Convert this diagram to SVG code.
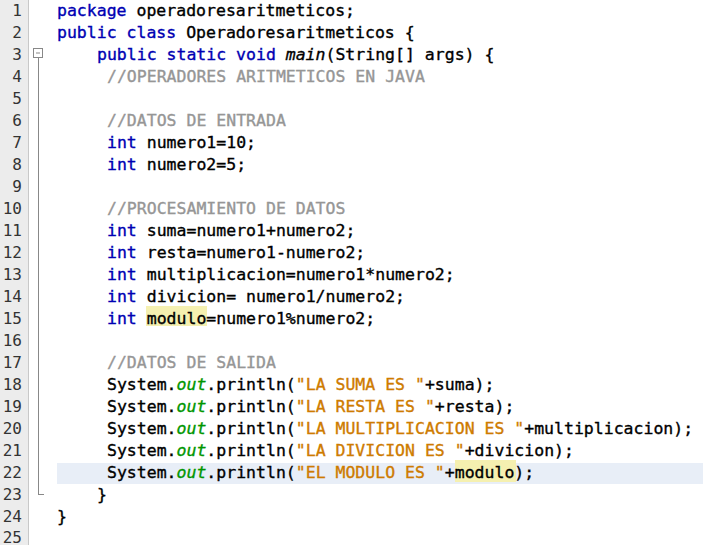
<svg xmlns="http://www.w3.org/2000/svg" width="703" height="545" viewBox="0 0 703 545">
<style>
text{font-family:"DejaVu Sans Mono","Liberation Mono",monospace;font-size:16.5px;fill:#000;white-space:pre}
#code text,#code tspan{stroke:currentColor;stroke-width:0.35}
#code text{color:#000}
.ln{font-size:16px;fill:#333;text-anchor:end}
#code .k{fill:#0000b3;color:#0000b3}
#code .c{fill:#969696;color:#969696}
#code .s{fill:#ce7b00;color:#ce7b00}
#code .o{fill:#009600;color:#009600;font-style:italic}
</style>
<rect width="703" height="545" fill="#fff"/>
<rect width="28" height="545" fill="#ececec"/>
<line x1="28.5" y1="0" x2="28.5" y2="545" stroke="#c8c8c8"/>
<rect x="57" y="463" width="646" height="21" fill="#e8eef7"/>
<rect x="146" y="306" width="61" height="20" fill="#f5f0b0"/>
<rect x="455" y="460" width="61" height="22" fill="#f5f0b0"/>
<g id="fold" fill="none" stroke="#888">
<rect x="33.5" y="48.5" width="9" height="9" fill="#fff"/>
<line x1="36" y1="53" x2="40" y2="53"/>
<line x1="38.5" y1="58" x2="38.5" y2="494"/>
<line x1="38" y1="494.5" x2="44" y2="494.5"/>
</g>
<g id="linenumbers">
<text class="ln" x="22" y="16">1</text><text class="ln" x="22" y="38">2</text><text class="ln" x="22" y="60">3</text><text class="ln" x="22" y="82">4</text><text class="ln" x="22" y="104">5</text><text class="ln" x="22" y="126">6</text><text class="ln" x="22" y="148">7</text><text class="ln" x="22" y="170">8</text><text class="ln" x="22" y="192">9</text><text class="ln" x="22" y="214">10</text><text class="ln" x="22" y="236">11</text><text class="ln" x="22" y="258">12</text><text class="ln" x="22" y="280">13</text><text class="ln" x="22" y="302">14</text><text class="ln" x="22" y="324">15</text><text class="ln" x="22" y="346">16</text><text class="ln" x="22" y="368">17</text><text class="ln" x="22" y="390">18</text><text class="ln" x="22" y="412">19</text><text class="ln" x="22" y="434">20</text><text class="ln" x="22" y="456">21</text><text class="ln" x="22" y="478">22</text><text class="ln" x="22" y="500">23</text><text class="ln" x="22" y="522">24</text><text class="ln" x="22" y="543">25</text>
</g>
<g id="code">
<text x="57" y="16"><tspan class="k">package</tspan> operadoresaritmeticos;</text>
<text x="57" y="38"><tspan class="k">public class</tspan> Operadoresaritmeticos {</text>
<text x="97" y="60"><tspan class="k">public static void</tspan> <tspan font-style="italic">main</tspan>(String[] args) {</text>
<text x="107" y="82" class="c">//OPERADORES ARITMETICOS EN JAVA</text>
<text x="107" y="126" class="c">//DATOS DE ENTRADA</text>
<text x="107" y="148"><tspan class="k">int</tspan> numero1=10;</text>
<text x="107" y="170"><tspan class="k">int</tspan> numero2=5;</text>
<text x="107" y="214" class="c">//PROCESAMIENTO DE DATOS</text>
<text x="107" y="236"><tspan class="k">int</tspan> suma=numero1+numero2;</text>
<text x="107" y="258"><tspan class="k">int</tspan> resta=numero1-numero2;</text>
<text x="107" y="280"><tspan class="k">int</tspan> multiplicacion=numero1*numero2;</text>
<text x="107" y="302"><tspan class="k">int</tspan> divicion= numero1/numero2;</text>
<text x="107" y="324"><tspan class="k">int</tspan> modulo=numero1%numero2;</text>
<text x="107" y="368" class="c">//DATOS DE SALIDA</text>
<text x="107" y="390">System.<tspan class="o">out</tspan>.println(<tspan class="s">"LA SUMA ES "</tspan>+suma);</text>
<text x="107" y="412">System.<tspan class="o">out</tspan>.println(<tspan class="s">"LA RESTA ES "</tspan>+resta);</text>
<text x="107" y="434">System.<tspan class="o">out</tspan>.println(<tspan class="s">"LA MULTIPLICACION ES "</tspan>+multiplicacion);</text>
<text x="107" y="456">System.<tspan class="o">out</tspan>.println(<tspan class="s">"LA DIVICION ES "</tspan>+divicion);</text>
<text x="107" y="478">System.<tspan class="o">out</tspan>.println(<tspan class="s">"EL MODULO ES "</tspan>+modulo);</text>
<text x="97" y="500">}</text>
<text x="57" y="522">}</text>
</g>
</svg>
